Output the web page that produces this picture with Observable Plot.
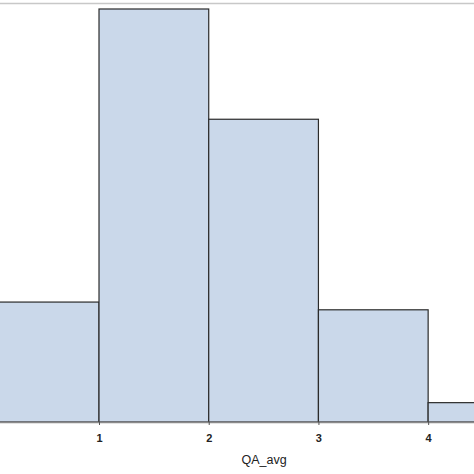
<!DOCTYPE html>
<html>
<head>
<meta charset="utf-8">
<script src="https://cdn.jsdelivr.net/npm/d3@7"></script>
<script src="https://cdn.jsdelivr.net/npm/@observablehq/plot@0.6"></script>
<style>
  html, body { margin: 0; padding: 0; background: #fff; }
  svg { display: block; }
</style>
</head>
<body>
<div id="chart"></div>
<script>
const binStarts = [0, 1, 2, 3, 4];
const binEnds = [1, 2, 3, 4, 5];
const percents = [12.4, 42.7, 31.3, 11.6, 2.0];
const xTicks = [1, 2, 3, 4];
const xLabel = "QA_avg";

const data = binStarts.map((s, i) => ({x1: s, x2: binEnds[i], y: percents[i]}));

const chart = Plot.plot({
  width: 474,
  height: 474,
  marginTop: 3,
  marginBottom: 52,
  marginLeft: 0,
  marginRight: 0,
  style: {fontFamily: "Liberation Sans, Arial, sans-serif", background: "#fff"},
  x: {domain: [0.0975, 4.418]},
  y: {domain: [0, 43.32], axis: null},
  marks: [
    Plot.frame({anchor: "top", stroke: "#c8c8c8", strokeWidth: 1.5}),
    Plot.rectY(data, {x1: "x1", x2: "x2", y: "y", fill: "#cad8ea", stroke: "#2b2b2b", strokeWidth: 1.2, clip: true}),
    Plot.ruleY([0], {stroke: "#8a8a8a", strokeWidth: 1.5}),
    Plot.axisX({ticks: xTicks, tickSize: 3, tickPadding: 9, tickFormat: d3.format("d"), fontSize: 11, fontWeight: "bold", stroke: "#555", fill: "#222", label: null}),
    Plot.text([xLabel], {x: () => 2.5, frameAnchor: "bottom", dy: 41, fontSize: 12.5, fill: "#222", text: d => d})
  ]
});
document.getElementById("chart").appendChild(chart);
</script>
</body>
</html>
